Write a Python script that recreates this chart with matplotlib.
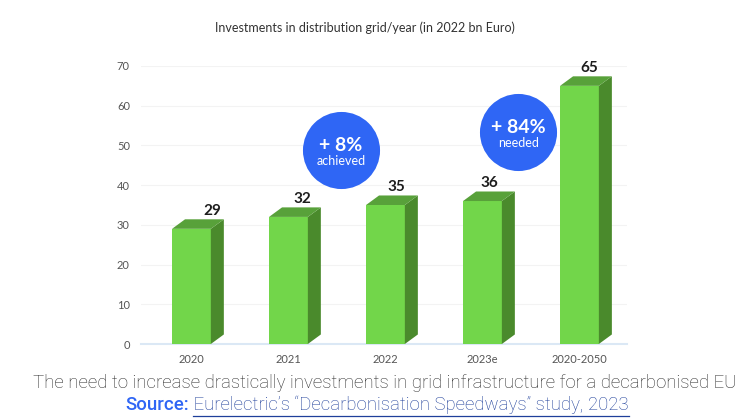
import matplotlib
matplotlib.use("Agg")
import matplotlib.pyplot as plt
from matplotlib.patches import Polygon
from matplotlib.lines import Line2D

categories = ["2020", "2021", "2022", "2023e", "2020-2050"]
values = [29, 32, 35, 36, 65]
bubble_big = ["+ 8%", "+ 84%"]
bubble_small = ["achieved", "needed"]
bubble_pos = [(1.54, 48.9), (3.37, 53.45)]

front = "#72d64a"
side = "#4a8a2c"
top = "#58a13a"
blue = "#2f66f5"

# label nudge (x units) so the numbers sit like in the source
label_dx = [0.01, -0.06, -0.09, -0.13, -0.1]

plt.rcParams['font.family'] = ['Lato', 'DejaVu Sans']

fig = plt.figure(figsize=(7.42, 4.19), dpi=100)
ax = fig.add_axes([141 / 742, 75 / 419, 486 / 742, 278 / 419])
ax.set_xlim(-0.52, 4.49)
ax.set_ylim(0, 70)

w = 0.40
dx = 0.134
dy = 2.4
for i, v in enumerate(values):
    x0 = i - w / 2
    x1 = i + w / 2
    ax.add_patch(Polygon([(x0, 0), (x1, 0), (x1, v), (x0, v)], closed=True,
                         facecolor=front, edgecolor="none", zorder=3))
    ax.add_patch(Polygon([(x1, 0), (x1 + dx, dy), (x1 + dx, v + dy), (x1, v)], closed=True,
                         facecolor=side, edgecolor="none", zorder=3))
    ax.add_patch(Polygon([(x0, v), (x1, v), (x1 + dx, v + dy), (x0 + dx, v + dy)], closed=True,
                         facecolor=top, edgecolor="none", zorder=3))
    ax.text(x1 + label_dx[i], v + 4.6, str(v), ha="center", va="center", fontsize=11,
            fontweight="bold", color="#1d1d1d", zorder=4)

for (bx, by), t1, t2 in zip(bubble_pos, bubble_big, bubble_small):
    ax.plot(bx, by, "o", markersize=55.5, color=blue, markeredgewidth=0, zorder=5)
    ax.text(bx, by + 1.1, t1, ha="center", va="center", fontsize=14, fontweight="bold",
            color="white", zorder=6)
    ax.text(bx, by - 2.9, t2, ha="center", va="center", fontsize=9, color="white", zorder=6)

ax.set_xticks(range(len(categories)))
ax.set_xticklabels(categories)
ax.set_yticks(range(0, 71, 10))
ax.tick_params(axis="both", length=0, labelsize=8, colors="#555555")
ax.tick_params(axis="y", pad=8)
ax.tick_params(axis="x", pad=7)
ax.grid(axis="y", color="#f3f3f3", linewidth=0.8, zorder=0)
for s in ["top", "right", "left"]:
    ax.spines[s].set_visible(False)
ax.spines["bottom"].set_color("#dbe8f5")
ax.spines["bottom"].set_linewidth(1.5)

fig.text(0.492, 0.933, "Investments in distribution grid/year (in 2022 bn Euro)",
         ha="center", va="center", fontsize=9, color="#333333")

fig.text(0.519, 0.086,
         "The need to increase drastically investments in grid infrastructure for a decarbonised EU",
         ha="center", va="center", fontsize=13.4, color="#2a2a2a", family=["Roboto", "DejaVu Sans"],
         fontweight="light")

fig.canvas.draw()
r = fig.canvas.get_renderer()
t_src = fig.text(0, 0.033, "Source:", ha="left", va="center", fontsize=13.4, color="#2f66f5",
                 family=["Roboto", "DejaVu Sans"], fontweight="medium")
t_link = fig.text(0, 0.033, " Eurelectric\u2019s \u201cDecarbonisation Speedways\u201d study, 2023",
                  ha="left", va="center", fontsize=13.4, color="#1e3f9a",
                  family=["Roboto", "DejaVu Sans"], fontweight="light")
w1 = t_src.get_window_extent(r).width / fig.bbox.width
w2 = t_link.get_window_extent(r).width / fig.bbox.width
start = 0.508 - (w1 + w2) / 2
t_src.set_x(start)
t_link.set_x(start + w1)
ext = t_link.get_window_extent(r)
ux0 = (ext.x0 + 4) / fig.bbox.width
ux1 = ext.x1 / fig.bbox.width
fig.add_artist(Line2D([ux0, ux1], [0.008, 0.008], color="#1e3f9a", linewidth=0.9,
                      transform=fig.transFigure))

fig.savefig("out.png", dpi=100, facecolor="white")
